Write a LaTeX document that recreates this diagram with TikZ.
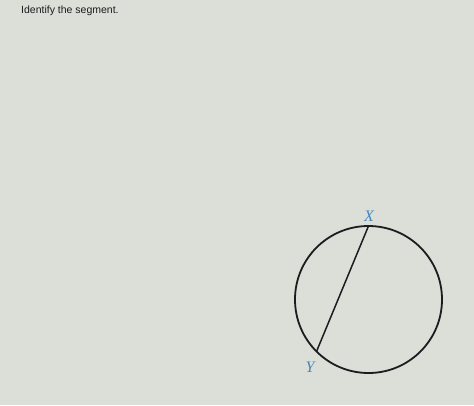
\documentclass[tikz,border=0pt]{standalone}
\usepackage{fontspec}
\usetikzlibrary{calc}
\setmainfont{Liberation Sans}
\newfontfamily\lblfont{Liberation Serif}
\definecolor{bg}{RGB}{220,222,216}
\definecolor{lblblue}{RGB}{66,136,190}
\definecolor{ink}{RGB}{28,28,32}
\tikzset{
  lbl/.style={text=lblblue, font=\lblfont\itshape\fontsize{16}{16}\selectfont, inner sep=0pt},
  title/.style={text=ink, font=\fontsize{10.5}{12}\selectfont, inner sep=0pt, anchor=base west},
  ring/.style={draw=ink, line width=1.8pt},
  chord/.style={draw=ink, line width=1.5pt}
}
\begin{document}
\begin{tikzpicture}[x=1pt,y=-1pt]
\fill[bg] (0,0) rectangle (474,405);
\useasboundingbox (0,0) rectangle (474,405);
\node[title] (t) at (21,13.5) {Identify the segment.};
\coordinate (c) at (368.5,299.5);
\draw[ring] (c) circle[radius=73.5];
\coordinate (x) at ($(c)+(0,-73.5)$);
\coordinate (y) at ($(c)+(-52,52)$);
\draw[chord] (x) -- (y);
\node[lbl] (xl) at (369,216) {X};
\node[lbl] (yl) at (310,367) {Y};
\end{tikzpicture}
\end{document}
